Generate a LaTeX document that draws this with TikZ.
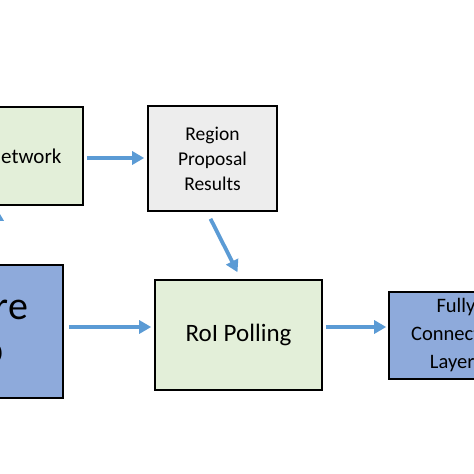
\documentclass[tikz,border=0pt]{standalone}
\usepackage{fontspec}
\setmainfont{Carlito}
\usetikzlibrary{arrows.meta}

\definecolor{boxgreen}{HTML}{E3EFD9}
\definecolor{boxgray}{HTML}{EDEDED}
\definecolor{boxblue}{HTML}{8EAADB}
\definecolor{arrblue}{HTML}{5B9BD5}

\begin{document}
\begin{tikzpicture}[x=1pt,y=-1pt,
  box/.style={draw=black, line width=1.6pt, inner sep=0pt, align=center},
  arr/.style={draw=arrblue, line width=3.8pt, -{Triangle[length=12pt,width=13pt]}}]
\useasboundingbox [fill=white] (0,0) rectangle (474,474);
\clip (0,0) rectangle (474,474);
% boxes
\node [box, fill=boxgreen, minimum width=117pt, minimum height=98pt,
  font=\fontsize{21}{25}\selectfont] (net) at (24.5,156) {Network};
\node [box, fill=boxgray, minimum width=129pt, minimum height=105pt,
  font=\fontsize{19.5}{25}\selectfont] (rpr) at (212.5,158.5) {Region\\Proposal\\Results};
\node [box, fill=boxblue, minimum width=194pt, minimum height=133pt,
  font=\fontsize{40}{44}\selectfont] (fmap) at (-34,331.5) {Feature\\Map};
\node [box, fill=boxgreen, minimum width=167pt, minimum height=110pt,
  font=\fontsize{25}{28}\selectfont] (roi) at (238.5,335) {RoI Polling};
\node [box, fill=boxblue, minimum width=134pt, minimum height=87pt,
  font=\fontsize{20.5}{28}\selectfont] (fc) at (456,335.5) {Fully\\Connected\\Layers};
\coordinate (up) at (-3,0);
% arrows
\draw [arr, shorten <=3pt, shorten >=3pt] (up |- fmap.north) -- (up |- net.south);
\draw [arr, shorten <=3pt, shorten >=3pt] (net.east |- 0,158) -- (rpr.west |- 0,158);
\draw [arr] ([xshift=-2pt,yshift=-7pt]rpr.south) -- ([xshift=-1pt,yshift=7pt]roi.north);
\draw [arr, shorten <=5pt, shorten >=3pt] ([yshift=8pt]roi.west -| fmap.east) -- ([yshift=8pt]roi.west);
\draw [arr, shorten <=3pt, shorten >=2pt] ([yshift=8pt]roi.east) -- ([yshift=8pt]roi.east -| fc.west);
\end{tikzpicture}
\end{document}
